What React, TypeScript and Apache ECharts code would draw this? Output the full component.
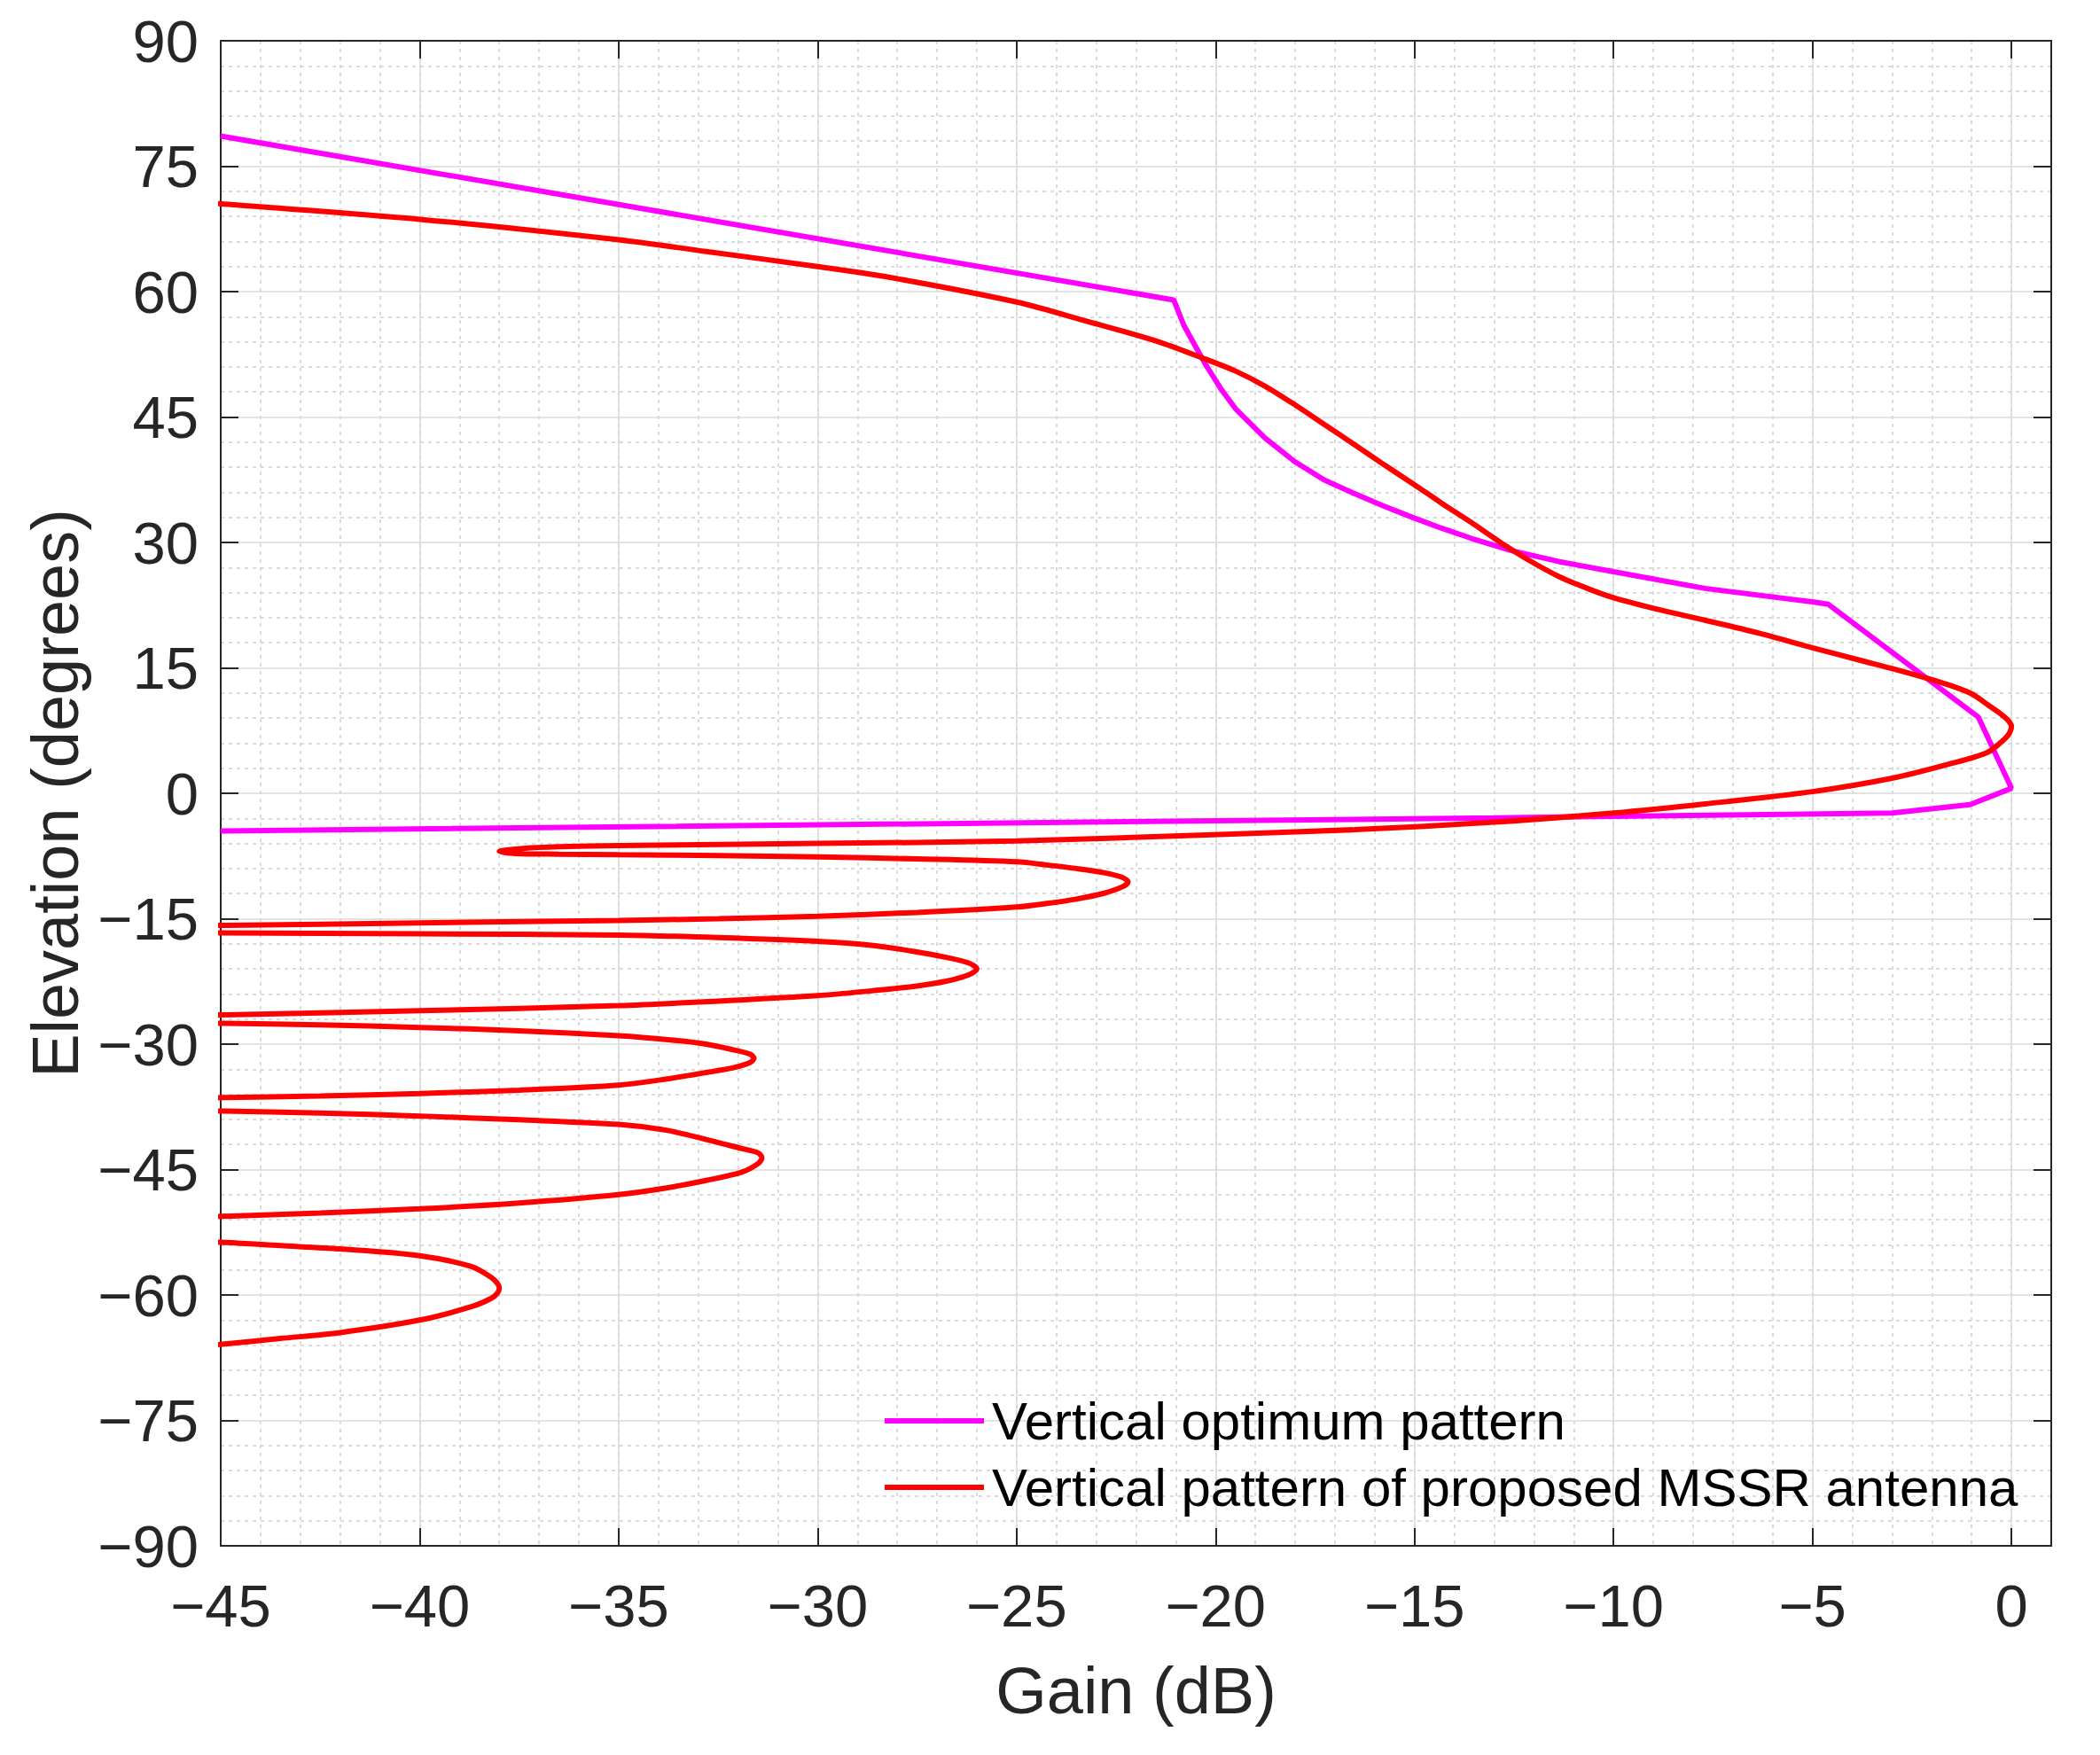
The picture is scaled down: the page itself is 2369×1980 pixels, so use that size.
import React, { useEffect, useRef } from "react";
import * as echarts from "echarts";

const FONT = "'Liberation Sans', Arial, Helvetica, sans-serif";

// Vertical optimum pattern (magenta): gain (dB) vs elevation (deg)
const optimumGain = [
  -45, -21.05, -20.8, -20.5, -20.24, -19.87, -19.5, -18.76, -18.02, -17.28, -16.54, -15.8, -15, -14.32, -13.58, -12.55, -11.36,
  -10, -7.7, -5, -4.6, -0.83, 0, -1.04, -3.0, -10, -13, -45,
];
const optimumElev = [
  78.6, 59.0, 56.0, 53.4, 51.2, 48.4, 46.0, 42.5, 39.7, 37.5, 35.9, 34.4, 32.9, 31.7, 30.5, 29.0, 27.7,
  26.5, 24.5, 22.9, 22.6, 9.1, 0.6, -1.35, -2.36, -2.75, -2.95, -4.5,
];

// Vertical pattern of proposed MSSR antenna (red), traced from high to low elevation
const mainLobeGain = [
  -50, -45, -40, -35, -32.8, -30, -28.3, -25, -23.2, -21.5, -20.24, -19.5, -18.76, -18.02, -17.28, -16.54, -15.8, -15, -14.32,
  -13.58, -12.84, -12.1, -11.36, -10.6, -10, -8.8, -7.7, -6.3, -5, -3.8, -2.6, -1.6, -1.0, -0.6, -0.3, -0.08, 0, -0.04, -0.15,
  -0.6, -1.6, -3.0, -5, -7.7, -10, -13, -16.5, -20.4, -25, -30, -35, -36.5, -37.4, -38.0,
];
const mainLobeElev = [
  72.4, 70.5, 68.65, 66.2, 64.8, 63.0, 61.8, 58.75, 56.4, 54.1, 51.9, 50.5, 48.7, 46.5, 44.15, 41.8, 39.4, 36.9, 34.7,
  32.4, 30.0, 27.8, 25.9, 24.4, 23.4, 21.9, 20.7, 19.1, 17.4, 15.9, 14.4, 13.0, 11.9, 10.6, 9.6, 8.7, 8.0, 7.3, 6.6,
  4.9, 3.45, 1.8, 0.2, -1.27, -2.36, -3.45, -4.35, -5.0, -5.7, -6.0, -6.25, -6.4, -6.6, -6.95,
];
const lobe1Gain = [-37.6, -36.5, -35, -32.5, -30, -27.5, -25, -24.2, -23.5, -22.8, -22.35, -22.2, -22.35, -22.8, -23.5, -24.2, -25, -27.5, -30, -32.5, -35, -40, -45, -55];
const lobe1Elev = [-7.2, -7.28, -7.35, -7.45, -7.6, -7.85, -8.2, -8.6, -9.0, -9.5, -10.05, -10.6, -11.2, -11.95, -12.65, -13.15, -13.6, -14.25, -14.7, -15.0, -15.2, -15.5, -15.8, -16.25];
const lobe2Gain = [-45, -40, -35, -32.5, -30, -28.6, -27.6, -26.8, -26.2, -26.0, -26.2, -26.8, -27.6, -28.6, -30, -32.5, -35, -40, -45, -55];
const lobe2Elev = [-16.7, -16.8, -16.95, -17.25, -17.7, -18.2, -18.9, -19.6, -20.3, -21.0, -21.7, -22.5, -23.1, -23.6, -24.2, -24.85, -25.4, -26.0, -26.5, -27.0];
const lobe3Gain = [-45, -42.5, -40, -37.5, -35, -33.7, -32.8, -32.1, -31.7, -31.6, -31.7, -32.1, -32.8, -33.7, -35, -37.5, -40, -42.5, -45, -55];
const lobe3Elev = [-27.5, -27.7, -28.0, -28.4, -29.0, -29.5, -30.0, -30.7, -31.2, -31.7, -32.2, -32.8, -33.4, -34.1, -34.9, -35.5, -35.9, -36.2, -36.4, -37.2];
const lobe4Gain = [-45, -42.5, -40, -37.5, -35, -33.8, -32.8, -31.9, -31.5, -31.4, -31.5, -31.9, -32.8, -33.8, -35, -37.5, -40, -42.5, -45, -55];
const lobe4Elev = [-38.0, -38.25, -38.6, -39.05, -39.6, -40.3, -41.4, -42.5, -43.0, -43.6, -44.3, -45.3, -46.3, -47.2, -48.0, -49.0, -49.7, -50.2, -50.6, -52.2];
const lobe5Gain = [-45, -43.5, -42, -40, -38.7, -38.2, -38.05, -38.0, -38.05, -38.2, -38.7, -40, -42, -43.5, -45, -50];
const lobe5Elev = [-53.7, -54.1, -54.5, -55.3, -56.6, -57.9, -58.6, -59.2, -59.8, -60.4, -61.4, -63.0, -64.5, -65.2, -65.9, -68.0];

const mssrGain = [...mainLobeGain, ...lobe1Gain, ...lobe2Gain, ...lobe3Gain, ...lobe4Gain, ...lobe5Gain];
const mssrElev = [...mainLobeElev, ...lobe1Elev, ...lobe2Elev, ...lobe3Elev, ...lobe4Elev, ...lobe5Elev];

const seriesNames = ["Vertical optimum pattern", "Vertical pattern of proposed MSSR antenna"];
const seriesColors = ["#ff00ff", "#ff0000"];

const xTicks = { min: -45, max: 1, interval: 5 };
const yTicks = { min: -90, max: 90, interval: 15 };
const xLabel = "Gain (dB)";
const yLabel = "Elevation (degrees)";

const TEXT = "#262626";

const fmt = (v: number) => (v < 0 ? "\u2212" + Math.abs(v) : String(v));

function pairs(xs: number[], ys: number[]) {
  return xs.map((x, i) => [x, ys[i]]);
}

export default function App() {
  const ref = useRef<HTMLDivElement>(null);
  useEffect(() => {
    if (!ref.current) return;
    const chart = echarts.init(ref.current, undefined, { renderer: "svg" });
    const axisLine = { show: true, onZero: false, lineStyle: { color: TEXT, width: 2 } };
    const axisTick = { show: true, inside: true, length: 20, lineStyle: { color: TEXT, width: 2 } };
    const majorSplit = { show: true, lineStyle: { color: "#dadada", width: 1.5, type: "solid" } };
    const minorSplitStyle = { color: "#cfcfcf", width: 1.5, type: [4, 5] };
    chart.setOption({
      animation: false,
      backgroundColor: "#ffffff",
      textStyle: { fontFamily: FONT },
      grid: { left: 249, top: 46, width: 2065, height: 1698, containLabel: false },
      legend: {
        orient: "vertical",
        left: 993,
        top: 1568,
        icon: "rect",
        itemWidth: 112,
        itemHeight: 6,
        itemGap: 15,
        data: seriesNames,
        textStyle: { fontFamily: FONT, fontSize: 60, color: "#000000", padding: [0, 0, 0, 4] },
      },
      xAxis: [
        {
          type: "value",
          position: "bottom",
          ...xTicks,
          name: xLabel,
          nameLocation: "middle",
          nameGap: 126,
          nameTextStyle: { fontFamily: FONT, fontSize: 74, color: TEXT },
          axisLine,
          axisTick,
          axisLabel: { fontFamily: FONT, fontSize: 67, color: TEXT, margin: 34, showMaxLabel: false, formatter: fmt },
          splitLine: majorSplit,
          z: 2,
        },
        {
          type: "value",
          position: "top",
          ...xTicks,
          axisLine,
          axisTick,
          axisLabel: { show: false },
          splitLine: { show: false },
          z: 2,
        },
        {
          type: "value",
          position: "bottom",
          min: xTicks.min,
          max: xTicks.max,
          interval: 1,
          axisLine: { show: false, onZero: false },
          axisTick: { show: false },
          axisLabel: { show: false },
          splitLine: { show: true, lineStyle: minorSplitStyle },
          z: 0,
        },
      ],
      yAxis: [
        {
          type: "value",
          position: "left",
          ...yTicks,
          name: yLabel,
          nameLocation: "middle",
          nameRotate: 90,
          nameGap: 146,
          nameTextStyle: { fontFamily: FONT, fontSize: 74, color: TEXT },
          axisLine,
          axisTick,
          axisLabel: { fontFamily: FONT, fontSize: 67, color: TEXT, margin: 25, formatter: fmt },
          splitLine: majorSplit,
          minorTick: { show: false, splitNumber: 5 },
          minorSplitLine: { show: true, lineStyle: minorSplitStyle },
          z: 2,
        },
        {
          type: "value",
          position: "right",
          ...yTicks,
          axisLine,
          axisTick,
          axisLabel: { show: false },
          splitLine: { show: false },
          z: 2,
        },
      ],
      series: [
        {
          name: seriesNames[0],
          type: "line",
          xAxisIndex: 0,
          yAxisIndex: 0,
          data: pairs(optimumGain, optimumElev),
          symbol: "none",
          clip: true,
          lineStyle: { color: seriesColors[0], width: 6 },
          itemStyle: { color: seriesColors[0] },
          z: 3,
        },
        {
          name: seriesNames[1],
          type: "line",
          xAxisIndex: 0,
          yAxisIndex: 0,
          data: pairs(mssrGain, mssrElev),
          symbol: "none",
          smooth: 0.3,
          clip: true,
          lineStyle: { color: seriesColors[1], width: 6 },
          itemStyle: { color: seriesColors[1] },
          z: 3,
        },
      ],
    });
    return () => chart.dispose();
  }, []);
  return (
    <div
      ref={ref}
      style={{ position: "fixed", left: 0, top: 0, width: 2369, height: 1980, background: "#ffffff" }}
    />
  );
}
